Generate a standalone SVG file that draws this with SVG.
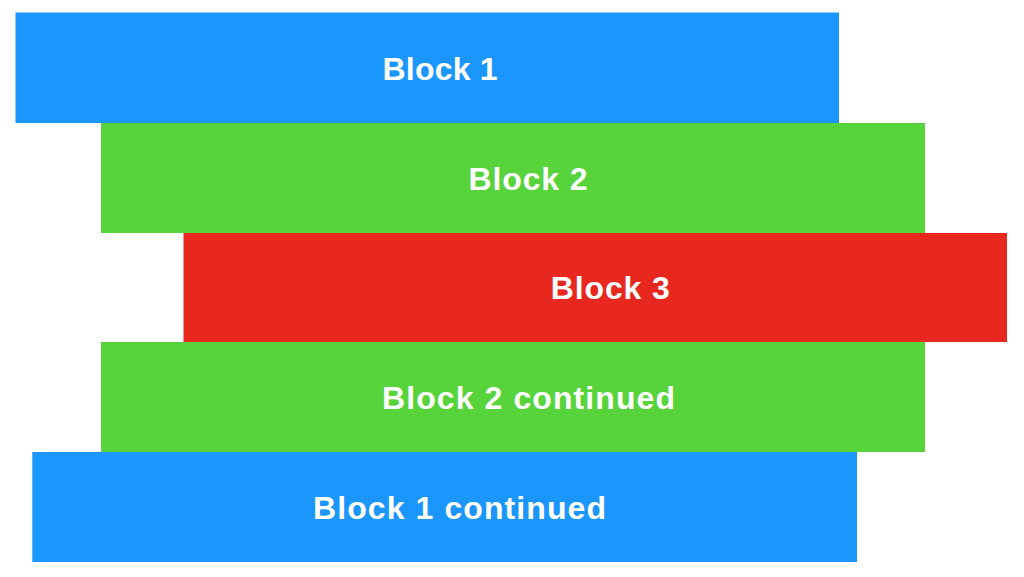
<svg xmlns="http://www.w3.org/2000/svg" width="1024" height="577" viewBox="0 0 1024 577">
<style>
.lbl{font-family:"Liberation Sans",Arial,Helvetica,sans-serif;font-weight:bold;font-size:32px;fill:#ffffff;text-anchor:middle}
.blue{fill:#1A96FC}.green{fill:#57D33B}.red{fill:#E8281F}
</style>
<rect width="1024" height="577" fill="#ffffff"/>
<g id="block1"><rect class="blue" x="15.5" y="12.5" width="823.5" height="110.5"/><text class="lbl" x="440" y="79.5" textLength="115" lengthAdjust="spacing">Block 1</text></g>
<g id="block2"><rect class="green" x="101" y="123" width="824" height="110"/><text class="lbl" x="528" y="190" textLength="119" lengthAdjust="spacing">Block 2</text></g>
<g id="block3"><rect class="red" x="183.5" y="233" width="823.5" height="109"/><text class="lbl" x="610.3" y="298.5" textLength="119" lengthAdjust="spacing">Block 3</text></g>
<g id="block2c"><rect class="green" x="101" y="342" width="824" height="110"/><text class="lbl" x="528.5" y="409" textLength="293" lengthAdjust="spacing">Block 2 continued</text></g>
<g id="block1c"><rect class="blue" x="32.3" y="452" width="824.7" height="110"/><text class="lbl" x="459.5" y="519.3" textLength="293" lengthAdjust="spacing">Block 1 continued</text></g>
<g id="connectors"></g>
</svg>
